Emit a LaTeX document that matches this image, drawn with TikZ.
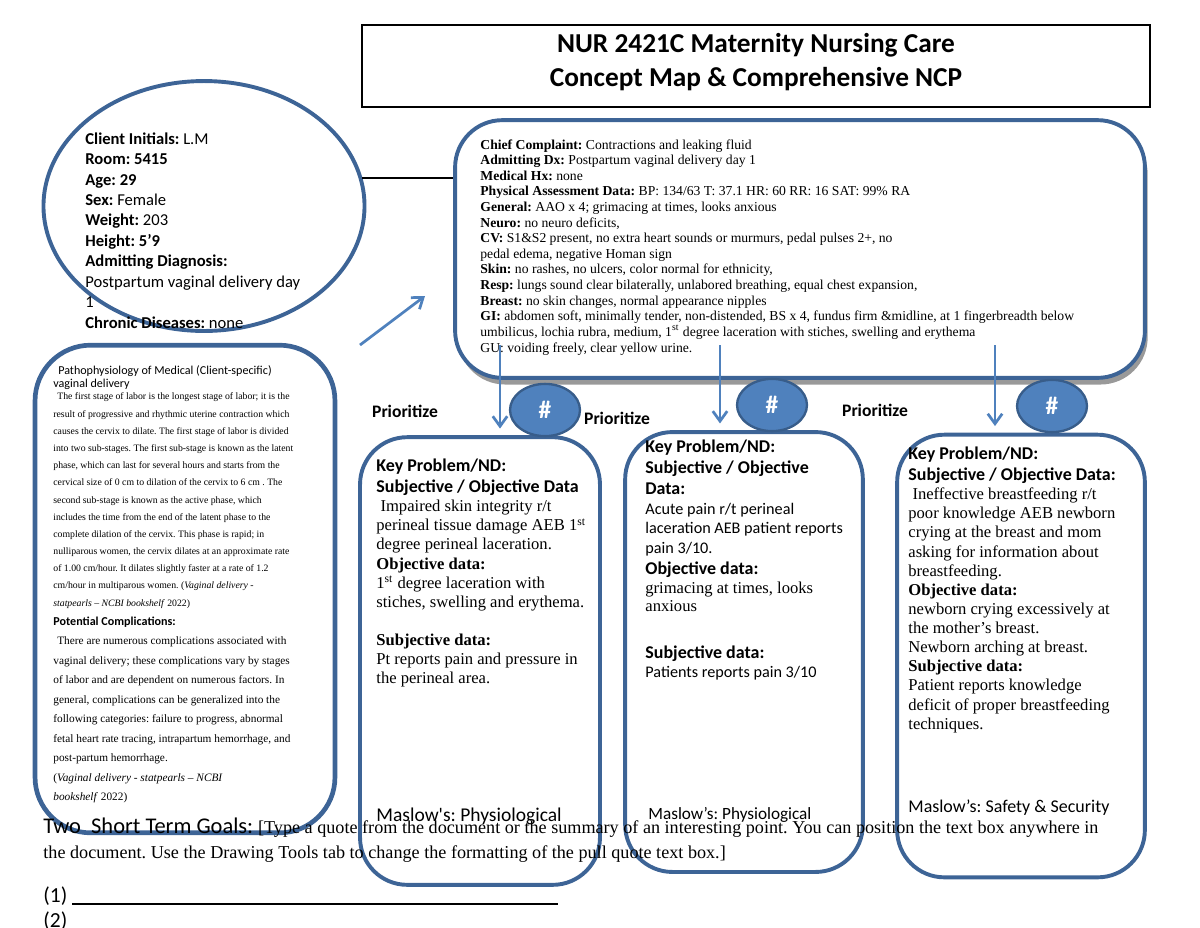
\documentclass[tikz,border=0pt]{standalone}
\usepackage{fontspec}
\setmainfont{Liberation Serif}
\newfontfamily\calibri{Carlito}
\usetikzlibrary{shapes.geometric,arrows.meta,shadows}
\definecolor{boxblue}{RGB}{61,100,150}
\definecolor{arrowblue}{RGB}{79,129,189}
\definecolor{dotedge}{RGB}{56,93,138}
\newcommand{\hdrfont}{\calibri\bfseries\fontsize{9.2}{11}\selectfont}
\newcommand{\keyfont}{\fontsize{8.5}{9.8}\selectfont}
\frenchspacing

\begin{document}
\begin{tikzpicture}[x=0.018cm, y=-0.018cm, every node/.style={inner sep=0pt},
  bluebox/.style={draw=boxblue, line width=2pt, rounded corners=0.85cm},
  hashdot/.style={ellipse, draw=dotedge, line width=1.2pt, fill=arrowblue, text=white,
    minimum width=1.26cm, minimum height=0.94cm, font=\calibri\bfseries\fontsize{13}{13}\selectfont},
  bluearrow/.style={draw=arrowblue, line width=1.4pt, -{Straight Barb[length=1.8mm,width=2.6mm]}},
  prio/.style={anchor=base, font=\calibri\bfseries\fontsize{9}{10}\selectfont},
  maslow/.style={anchor=base west, font=\calibri\fontsize{9}{10}\selectfont},
  keytext/.style={anchor=base west, text width=4.4cm, align=flush left}]
\useasboundingbox (0,0) rectangle (1200,927);

% header
\node[draw, line width=1pt, minimum width=14.18cm, minimum height=1.48cm] (title) at (756,66) {};
\node[align=center, font=\calibri\bfseries\fontsize{14}{17}\selectfont] (titletxt) at (756,62)
  {NUR 2421C Maternity Nursing Care\\Concept Map \& Comprehensive NCP};

% client bubble
\node[ellipse, draw=boxblue, line width=2pt, minimum width=5.78cm, minimum height=4.5cm] (client) at (204,206) {};
\node[anchor=base west, text width=4.3cm, align=flush left, font=\calibri\fontsize{8.5}{10.5}\selectfont] (clienttxt) at (85,144)
  {\textbf{Client Initials:} L.M\\
   \textbf{Room: 5415}\\
   \textbf{Age: 29}\\
   \textbf{Sex:} Female\\
   \textbf{Weight:} 203\\
   \textbf{Height: 5’9}\\
   \textbf{Admitting Diagnosis:}\\
   Postpartum vaginal delivery day\\
   1\\
   \textbf{Chronic Diseases:} none};

% assessment data
\node[bluebox, fill=white, drop shadow={shadow xshift=0.5mm, shadow yshift=-1.2mm, fill=black!40, opacity=1},
  minimum width=12.42cm, minimum height=4.64cm] (data) at (800,249) {};
\node[anchor=base west, text width=12cm, align=flush left, font=\fontsize{7}{8}\selectfont] (datatxt) at (480,149)
  {\textbf{Chief Complaint:} Contractions and leaking fluid\\
   \textbf{Admitting Dx:} Postpartum vaginal delivery day 1\\
   \textbf{Medical Hx:} none\\
   \textbf{Physical Assessment Data:} BP: 134/63 T: 37.1 HR: 60 RR: 16 SAT: 99\% RA\\
   \textbf{General:} AAO x 4; grimacing at times, looks anxious\\
   \textbf{Neuro:} no neuro deficits,\\
   \textbf{CV:} S1\&S2 present, no extra heart sounds or murmurs, pedal pulses 2+, no\\
   pedal edema, negative Homan sign\\
   \textbf{Skin:} no rashes, no ulcers, color normal for ethnicity,\\
   \textbf{Resp:} lungs sound clear bilaterally, unlabored breathing, equal chest expansion,\\
   \textbf{Breast:} no skin changes, normal appearance nipples\\
   \textbf{GI:} abdomen soft, minimally tender, non-distended, BS x 4, fundus firm \&midline, at 1 fingerbreadth below\\
   umbilicus, lochia rubra, medium, 1\textsuperscript{st} degree laceration with stiches, swelling and erythema\\
   GU: voiding freely, clear yellow urine.};
\draw[line width=0.6pt] (client.10) -- (client.10 -| data.west);

% pathophysiology
\node[draw=boxblue, line width=2.4pt, rounded corners=1cm, minimum width=5.4cm, minimum height=8.78cm] (patho) at (185,589) {};
\node[anchor=base west, text width=5.2cm, align=flush left] (pathotxt) at (53,374)
  {{\calibri\fontsize{6.2}{6.7}\selectfont \hspace{2.5pt}Pathophysiology of Medical (Client-specific)\\ vaginal delivery\par}
   \vspace{-2.2pt}
   {\fontsize{5}{8.8}\selectfont \hspace{2pt}The first stage of labor is the longest stage of labor; it is the\\
    result of progressive and rhythmic uterine contraction which\\
    causes the cervix to dilate. The first stage of labor is divided\\
    into two sub-stages. The first sub-stage is known as the latent\\
    phase, which can last for several hours and starts from the\\
    cervical size of 0 cm to dilation of the cervix to 6 cm . The\\
    second sub-stage is known as the active phase, which\\
    includes the time from the end of the latent phase to the\\
    complete dilation of the cervix. This phase is rapid; in\\
    nulliparous women, the cervix dilates at an approximate rate\\
    of 1.00 cm/hour. It dilates slightly faster at a rate of 1.2\\
    cm/hour in multiparous women. (\textit{Vaginal delivery -}\\
    \textit{statpearls -- NCBI bookshelf} 2022)\par}
   {\calibri\bfseries\fontsize{6.2}{9.7}\selectfont Potential Complications:\par}
   {\fontsize{5.8}{10}\selectfont \hspace{2pt}There are numerous complications associated with\\
    vaginal delivery; these complications vary by stages\\
    of labor and are dependent on numerous factors. In\\
    general, complications can be generalized into the\\
    following categories: failure to progress, abnormal\\
    fetal heart rate tracing, intrapartum hemorrhage, and\\
    post-partum hemorrhage.\\
    (\textit{Vaginal delivery - statpearls -- NCBI}\\
    \textit{bookshelf} 2022)\par}};

\coordinate (d1) at (360,345);
\coordinate (d2) at (425,296);
\draw[bluearrow] (d1) -- (d2);

% key problem boxes
\node[bluebox, minimum width=4.32cm, minimum height=8.06cm] (kp1) at (480,661) {};
\node[bluebox, minimum width=4.28cm, minimum height=7.92cm] (kp2) at (744,652) {};
\node[bluebox, minimum width=4.46cm, minimum height=7.97cm] (kp3) at (1021,656) {};

\coordinate (s1) at (500,345);
\coordinate (s2) at (720,345);
\coordinate (s3) at (995,345);
\draw[bluearrow, shorten >=1.2mm] (s1) -- (s1 |- kp1.north);
\draw[bluearrow, shorten >=1.2mm] (s2) -- (s2 |- kp2.north);
\draw[bluearrow, shorten >=1.2mm] (s3) -- (s3 |- kp3.north);

\node[hashdot] (h1) at (545,410) {\#};
\node[hashdot] (h2) at (772,405) {\#};
\node[hashdot] (h3) at (1052,406) {\#};

\node[prio] (p1) at (405,417) {Prioritize};
\node[prio] (p2) at (617,424) {Prioritize};
\node[prio] (p3) at (875,416) {Prioritize};

\node[keytext] (kp1txt) at (376,471)
  {{\hdrfont Key Problem/ND:\\ Subjective / Objective Data\par}
   {\keyfont \ Impaired skin integrity r/t\\
    perineal tissue damage AEB 1\textsuperscript{st}\\
    degree perineal laceration.\\
    \textbf{Objective data:}\\
    1\textsuperscript{st} degree laceration with\\
    stiches, swelling and erythema.\\[9.8pt]
    \textbf{Subjective data:}\\
    Pt reports pain and pressure in\\
    the perineal area.\par}};
\node[maslow, font=\calibri\fontsize{10}{11}\selectfont] (m1) at (376,821) {Maslow\textquotesingle s: Physiological};

\node[keytext] (kp2txt) at (645,452)
  {{\hdrfont Key Problem/ND:\\ Subjective / Objective\\ Data:\par}
   {\calibri\fontsize{8.3}{10}\selectfont Acute pain r/t perineal\\
    laceration AEB patient reports\\
    pain 3/10.\par}
   {\hdrfont Objective data:\par}
   {\fontsize{8.5}{9.3}\selectfont grimacing at times, looks\\ anxious\par}
   \vspace{13pt}
   {\hdrfont Subjective data:\par}
   {\calibri\fontsize{8.3}{10}\selectfont Patients reports pain 3/10\par}};
\node[maslow, font=\calibri\fontsize{8.8}{10}\selectfont] (m2) at (648,819) {Maslow’s: Physiological};

\node[keytext, text width=4.6cm] (kp3txt) at (908,459)
  {{\hdrfont Key Problem/ND:\\ Subjective / Objective Data:\par}
   {\keyfont \ Ineffective breastfeeding r/t\\
    poor knowledge AEB newborn\\
    crying at the breast and mom\\
    asking for information about\\
    breastfeeding.\\
    \textbf{Objective data:}\\
    newborn crying excessively at\\
    the mother’s breast.\\
    Newborn arching at breast.\\
    \textbf{Subjective data:}\\
    Patient reports knowledge\\
    deficit of proper breastfeeding\\
    techniques.\par}};
\node[maslow, font=\calibri\fontsize{9.2}{10}\selectfont] (m3) at (908,812) {Maslow’s: Safety \& Security};

% goals
\node[anchor=base west, text width=21cm, align=flush left] (goals) at (43,833)
  {{\calibri\fontsize{11.5}{12}\selectfont Two\ \ Short Term Goals:} {\fontsize{9.3}{12.8}\selectfont[Type a quote from the document or the summary of an interesting point. You can position the text box anywhere in\\
   the document. Use the Drawing Tools tab to change the formatting of the pull quote text box.]\par}};
\node[anchor=base west, font=\calibri\fontsize{11}{12}\selectfont] (goal1) at (43,902) {(1) \rule[-1.5pt]{249pt}{0.8pt}};
\node[anchor=base west, font=\calibri\fontsize{11}{12}\selectfont] (goal2) at (43,927) {(2)};
\end{tikzpicture}
\end{document}
